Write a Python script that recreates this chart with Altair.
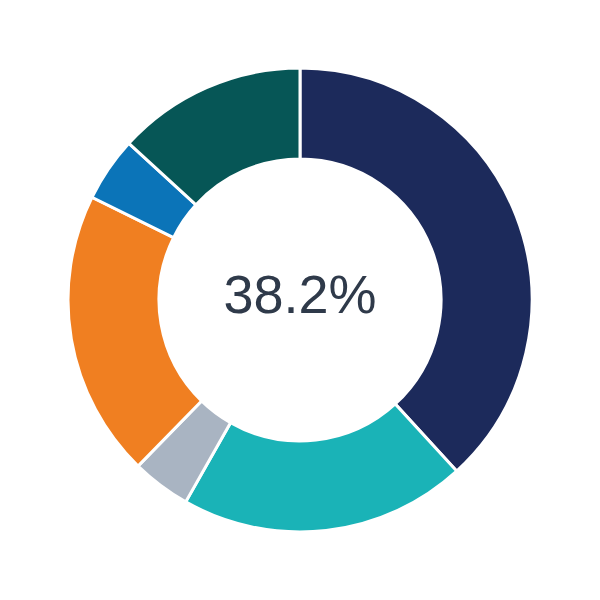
import altair as alt
import pandas as pd

categories = ["A", "B", "C", "D", "E", "F"]
values = [38.2, 20.0, 4.1, 20.0, 4.5, 13.2]
colors = ["#1c2a5b", "#1ab3b7", "#a9b4c2", "#f07f21", "#0b74b8", "#065656"]
center_label = "38.2%"

df = pd.DataFrame({"cat": categories, "value": values, "idx": list(range(len(values)))})

arc = alt.Chart(df).mark_arc(innerRadius=141, outerRadius=232, stroke="white", strokeWidth=3).encode(
    theta=alt.Theta("value:Q", stack=True),
    order=alt.Order("idx:Q"),
    color=alt.Color("cat:N", scale=alt.Scale(domain=categories, range=colors), legend=None),
)

text = alt.Chart(pd.DataFrame({"t": [center_label]})).mark_text(
    font="Liberation Sans", fontSize=54, color="#2f3a4a", baseline="middle", align="center", dy=-3
).encode(text="t:N")

chart = alt.layer(arc, text).properties(
    width=584, height=584, autosize=alt.AutoSizeParams(type="none"), padding=0
).configure_view(stroke=None)

chart.save("out.html", embed_options={"renderer": "svg", "actions": False})
